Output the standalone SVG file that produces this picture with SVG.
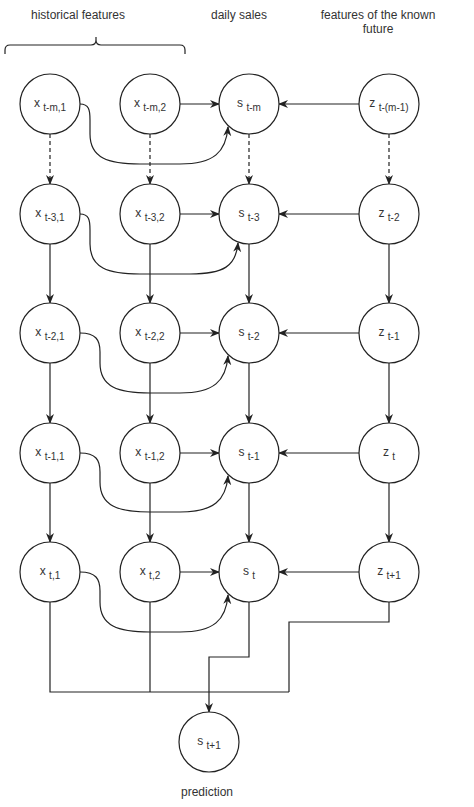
<svg xmlns="http://www.w3.org/2000/svg" width="474" height="807" viewBox="0 0 474 807">
<style>
text{font-family:"Liberation Sans",Arial,sans-serif;fill:#333;}
.hdr{font-size:12px;text-anchor:middle;}
.lbl{font-size:12px;text-anchor:middle;}
.sub{font-size:10px;}
circle{fill:#fff;stroke:#222;stroke-width:1.2;}
.c{fill:none;stroke:#222;stroke-width:1.2;}
.a{marker-end:url(#arr);}
.d{stroke-dasharray:4 3;}
</style>
<defs>
<marker id="arr" viewBox="0 0 10 10" refX="9" refY="5" markerWidth="10" markerHeight="10" markerUnits="userSpaceOnUse" orient="auto">
<path d="M0,1 L10,5 L0,9 L3,5 z" fill="#222"/>
</marker>
</defs>
<rect width="474" height="807" fill="#fff"/>
<g id="headers">
<text class="hdr" x="78" y="19">historical features</text>
<text class="hdr" x="239" y="19">daily sales</text>
<text class="hdr" x="378" y="19">features of the known</text>
<text class="hdr" x="378" y="33">future</text>
<text class="hdr" x="207" y="796">prediction</text>
<path class="c" d="M5,54 L5,50 Q5,45 10,45 L91,45 Q96,45 96,40 L96,37 M96,40 Q96,45 101,45 L180,45 Q185,45 185,50 L185,54"/>
</g>
<g id="connectors">
<path class="c a d" d="M50,134 L50,184"/>
<path class="c a d" d="M150,134 L150,184"/>
<path class="c a d" d="M249,134 L249,184"/>
<path class="c a d" d="M389,134 L389,184"/>
<path class="c a" d="M50,244 L50,303"/>
<path class="c a" d="M150,244 L150,303"/>
<path class="c a" d="M249,244 L249,303"/>
<path class="c a" d="M389,244 L389,303"/>
<path class="c a" d="M50,363 L50,423"/>
<path class="c a" d="M150,363 L150,423"/>
<path class="c a" d="M249,363 L249,423"/>
<path class="c a" d="M389,363 L389,423"/>
<path class="c a" d="M50,483 L50,542"/>
<path class="c a" d="M150,483 L150,542"/>
<path class="c a" d="M249,483 L249,542"/>
<path class="c a" d="M389,483 L389,542"/>
<path class="c a" d="M180,104 L219,104"/>
<path class="c a" d="M359,104 L279,104"/>
<path class="c a" d="M180,214 L219,214"/>
<path class="c a" d="M359,214 L279,214"/>
<path class="c a" d="M180,333 L219,333"/>
<path class="c a" d="M359,333 L279,333"/>
<path class="c a" d="M180,453 L219,453"/>
<path class="c a" d="M359,453 L279,453"/>
<path class="c a" d="M180,572 L219,572"/>
<path class="c a" d="M359,572 L279,572"/>
<path class="c a" d="M80,104 C89,104 90,110 90,120 L90,134 C90,158 108,164 140,164 L180,164 C214,164 226,152 228,127"/>
<path class="c a" d="M80,214 C89,214 90,220 90,230 L90,244 C90,268 108,274 140,274 L190,274 C224,274 236,266 238,243"/>
<path class="c a" d="M80,333 C96,333 100,340 100,352 L100,363 C100,387 118,393 150,393 L180,393 C214,393 226,381 228,356"/>
<path class="c a" d="M80,453 C96,453 100,460 100,472 L100,482 C100,506 118,512 150,512 L180,512 C214,512 226,500 228,476"/>
<path class="c a" d="M80,572 C96,572 100,579 100,591 L100,602 C100,626 118,632 150,632 L180,632 C214,632 226,620 228,595"/>
<path class="c" d="M50,602 L50,692 L289,692"/>
<path class="c" d="M150,602 L150,692"/>
<path class="c" d="M389,602 L389,622 L289,622 L289,692"/>
<path class="c a" d="M249,602 L249,657 L209,657 L209,712"/>
</g>
<g id="n_x_tm_1"><circle cx="50" cy="104" r="30"/><text class="lbl" x="50" y="107">x <tspan class="sub" dy="4">t-m,1</tspan></text></g>
<g id="n_x_tm_2"><circle cx="150" cy="104" r="30"/><text class="lbl" x="150" y="107">x <tspan class="sub" dy="4">t-m,2</tspan></text></g>
<g id="n_s_tm"><circle cx="249" cy="104" r="30"/><text class="lbl" x="249" y="107">s <tspan class="sub" dy="4">t-m</tspan></text></g>
<g id="n_z_tm1"><circle cx="389" cy="104" r="30"/><text class="lbl" x="389" y="107">z <tspan class="sub" dy="4">t-(m-1)</tspan></text></g>

<g id="n_x_t3_1"><circle cx="50" cy="214" r="30"/><text class="lbl" x="50" y="217">x <tspan class="sub" dy="4">t-3,1</tspan></text></g>
<g id="n_x_t3_2"><circle cx="150" cy="214" r="30"/><text class="lbl" x="150" y="217">x <tspan class="sub" dy="4">t-3,2</tspan></text></g>
<g id="n_s_t3"><circle cx="249" cy="214" r="30"/><text class="lbl" x="249" y="217">s <tspan class="sub" dy="4">t-3</tspan></text></g>
<g id="n_z_t2"><circle cx="389" cy="214" r="30"/><text class="lbl" x="389" y="217">z <tspan class="sub" dy="4">t-2</tspan></text></g>

<g id="n_x_t2_1"><circle cx="50" cy="333" r="30"/><text class="lbl" x="50" y="336">x <tspan class="sub" dy="4">t-2,1</tspan></text></g>
<g id="n_x_t2_2"><circle cx="150" cy="333" r="30"/><text class="lbl" x="150" y="336">x <tspan class="sub" dy="4">t-2,2</tspan></text></g>
<g id="n_s_t2"><circle cx="249" cy="333" r="30"/><text class="lbl" x="249" y="336">s <tspan class="sub" dy="4">t-2</tspan></text></g>
<g id="n_z_t1"><circle cx="389" cy="333" r="30"/><text class="lbl" x="389" y="336">z <tspan class="sub" dy="4">t-1</tspan></text></g>

<g id="n_x_t1_1"><circle cx="50" cy="453" r="30"/><text class="lbl" x="50" y="456">x <tspan class="sub" dy="4">t-1,1</tspan></text></g>
<g id="n_x_t1_2"><circle cx="150" cy="453" r="30"/><text class="lbl" x="150" y="456">x <tspan class="sub" dy="4">t-1,2</tspan></text></g>
<g id="n_s_t1"><circle cx="249" cy="453" r="30"/><text class="lbl" x="249" y="456">s <tspan class="sub" dy="4">t-1</tspan></text></g>
<g id="n_z_t"><circle cx="389" cy="453" r="30"/><text class="lbl" x="389" y="456">z <tspan class="sub" dy="4">t</tspan></text></g>

<g id="n_x_t_1"><circle cx="50" cy="572" r="30"/><text class="lbl" x="50" y="575">x <tspan class="sub" dy="4">t,1</tspan></text></g>
<g id="n_x_t_2"><circle cx="150" cy="572" r="30"/><text class="lbl" x="150" y="575">x <tspan class="sub" dy="4">t,2</tspan></text></g>
<g id="n_s_t"><circle cx="249" cy="572" r="30"/><text class="lbl" x="249" y="575">s <tspan class="sub" dy="4">t</tspan></text></g>
<g id="n_z_tp1"><circle cx="389" cy="572" r="30"/><text class="lbl" x="389" y="575">z <tspan class="sub" dy="4">t+1</tspan></text></g>

<g id="n_s_tp1"><circle cx="209" cy="742" r="30"/><text class="lbl" x="209" y="745">s <tspan class="sub" dy="4">t+1</tspan></text></g>
</svg>
